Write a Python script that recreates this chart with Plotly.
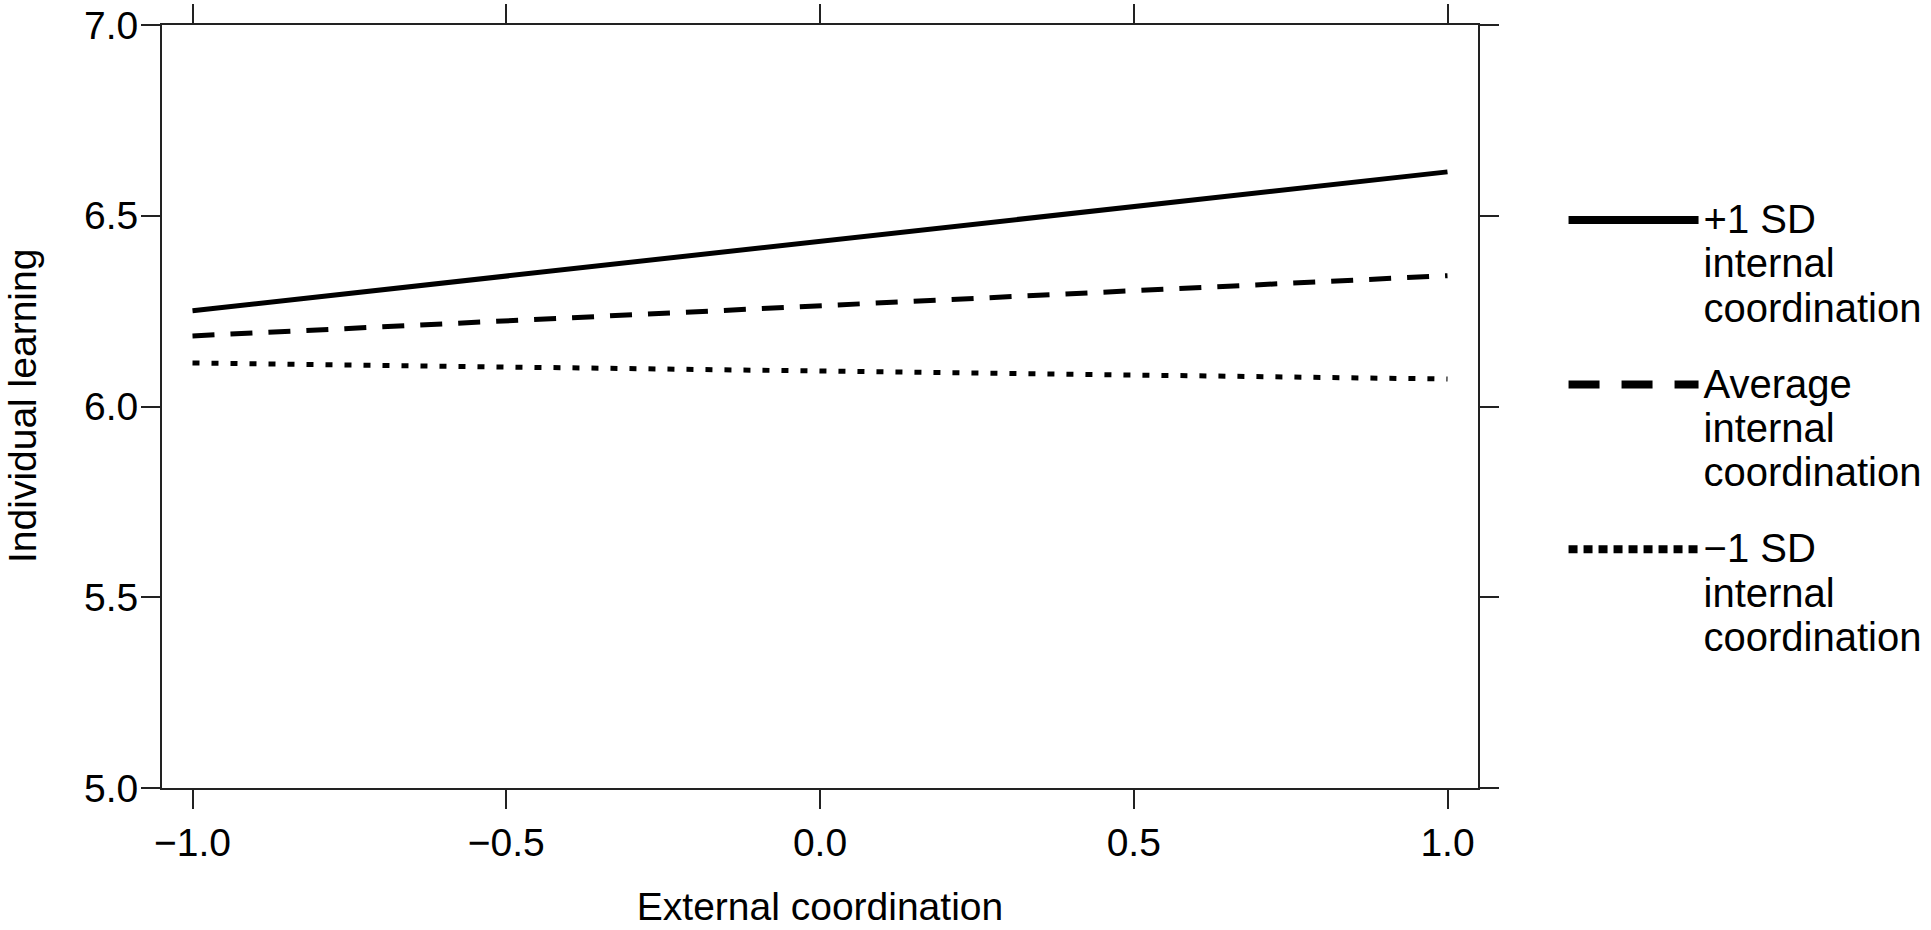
import plotly.graph_objects as go

# Data
x_vals = [-1.0, 1.0]
plus_sd = [6.251, 6.615]
average = [6.185, 6.343]
minus_sd = [6.114, 6.072]

series_lines = [["+1 SD", "internal", "coordination"],
                ["Average", "internal", "coordination"],
                ["\u22121 SD", "internal", "coordination"]]

x_ticks = [-1.0, -0.5, 0.0, 0.5, 1.0]
y_ticks = [5.0, 5.5, 6.0, 6.5, 7.0]

x_title = "External coordination"
y_title = "Individual learning"

FONT = "Arial, 'Liberation Sans', sans-serif"
dash_plot = ["solid", "22px,16px", "7px,12px"]
dash_leg = ["solid", "31px,22px", "9px,6px"]
series = [plus_sd, average, minus_sd]


def legend_name(lines):
    return "<br>".join('<span style="font-size:40px">%s</span>' % t for t in lines)


fig = go.Figure()
for ys, d in zip(series, dash_plot):
    fig.add_trace(go.Scatter(x=x_vals, y=ys, mode="lines",
                             line=dict(color="black", width=5, dash=d),
                             showlegend=False, hoverinfo="skip"))
for lines, d in zip(series_lines, dash_leg):
    name = legend_name(lines)
    fig.add_trace(go.Scatter(x=[None], y=[None], mode="lines", name=name,
                             line=dict(color="black", width=8, dash=d),
                             legendgroup=lines[0]))

axis_common = dict(showline=True, linecolor="#222", linewidth=2,
                   mirror="ticks", ticks="outside", ticklen=19, tickwidth=2,
                   tickcolor="#222", showgrid=False, zeroline=False,
                   tickfont=dict(family=FONT, size=39, color="black"),
                   tickformat=".1f")

fig.update_xaxes(range=[-1.0486, 1.0486], tickvals=x_ticks,
                 title=dict(text=x_title,
                            font=dict(family=FONT, size=39, color="black"),
                            standoff=30),
                 **axis_common)
fig.update_yaxes(range=[5.0, 7.0], tickvals=y_ticks, ticklabelstandoff=-5,
                 **axis_common)

fig.add_annotation(text=y_title, xref="paper", yref="paper",
                   x=-0.106, y=0.5, xanchor="center", yanchor="middle",
                   textangle=-90, showarrow=False,
                   font=dict(family=FONT, size=39, color="black"))

fig.update_layout(
    width=1931, height=930,
    margin=dict(l=162, r=453, t=25, b=142, autoexpand=False),
    plot_bgcolor="white", paper_bgcolor="white",
    font=dict(family=FONT, color="black"),
    legend=dict(x=1.065, y=0.782, xanchor="left", yanchor="top",
                font=dict(family=FONT, size=34, color="black"),
                itemwidth=130, valign="top", tracegroupgap=29,
                bgcolor="rgba(0,0,0,0)"),
)

fig.write_html("out.html")
